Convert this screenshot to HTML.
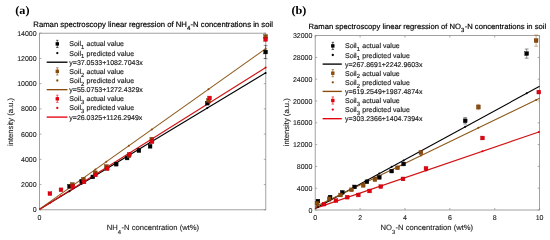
<!DOCTYPE html><html><head><meta charset="utf-8"><style>html,body{margin:0;padding:0;background:#fff;width:550px;height:240px;overflow:hidden}svg{display:block;filter:blur(0.3px)}text{text-rendering:geometricPrecision}</style></head><body>
<svg width="550" height="240" viewBox="0 0 550 240" font-family="Liberation Sans, Arial, sans-serif">
<rect width="550" height="240" fill="#fff"/>
<rect x="39.5" y="33.2" width="226.30" height="176.60" fill="none" stroke="#8a8a8a" stroke-width="0.8"/>
<line x1="39.5" y1="209.80" x2="41.50" y2="209.80" stroke="#8a8a8a" stroke-width="0.7"/>
<line x1="265.8" y1="209.80" x2="263.80" y2="209.80" stroke="#8a8a8a" stroke-width="0.7"/>
<text x="36.6" y="212.30" font-size="7.0" text-anchor="end" fill="#222" stroke="#222" stroke-width="0.12">0</text>
<line x1="39.5" y1="184.57" x2="41.50" y2="184.57" stroke="#8a8a8a" stroke-width="0.7"/>
<line x1="265.8" y1="184.57" x2="263.80" y2="184.57" stroke="#8a8a8a" stroke-width="0.7"/>
<text x="36.6" y="187.07" font-size="7.0" text-anchor="end" fill="#222" stroke="#222" stroke-width="0.12">2000</text>
<line x1="39.5" y1="159.34" x2="41.50" y2="159.34" stroke="#8a8a8a" stroke-width="0.7"/>
<line x1="265.8" y1="159.34" x2="263.80" y2="159.34" stroke="#8a8a8a" stroke-width="0.7"/>
<text x="36.6" y="161.84" font-size="7.0" text-anchor="end" fill="#222" stroke="#222" stroke-width="0.12">4000</text>
<line x1="39.5" y1="134.11" x2="41.50" y2="134.11" stroke="#8a8a8a" stroke-width="0.7"/>
<line x1="265.8" y1="134.11" x2="263.80" y2="134.11" stroke="#8a8a8a" stroke-width="0.7"/>
<text x="36.6" y="136.61" font-size="7.0" text-anchor="end" fill="#222" stroke="#222" stroke-width="0.12">6000</text>
<line x1="39.5" y1="108.89" x2="41.50" y2="108.89" stroke="#8a8a8a" stroke-width="0.7"/>
<line x1="265.8" y1="108.89" x2="263.80" y2="108.89" stroke="#8a8a8a" stroke-width="0.7"/>
<text x="36.6" y="111.39" font-size="7.0" text-anchor="end" fill="#222" stroke="#222" stroke-width="0.12">8000</text>
<line x1="39.5" y1="83.66" x2="41.50" y2="83.66" stroke="#8a8a8a" stroke-width="0.7"/>
<line x1="265.8" y1="83.66" x2="263.80" y2="83.66" stroke="#8a8a8a" stroke-width="0.7"/>
<text x="36.6" y="86.16" font-size="7.0" text-anchor="end" fill="#222" stroke="#222" stroke-width="0.12">10000</text>
<line x1="39.5" y1="58.43" x2="41.50" y2="58.43" stroke="#8a8a8a" stroke-width="0.7"/>
<line x1="265.8" y1="58.43" x2="263.80" y2="58.43" stroke="#8a8a8a" stroke-width="0.7"/>
<text x="36.6" y="60.93" font-size="7.0" text-anchor="end" fill="#222" stroke="#222" stroke-width="0.12">12000</text>
<line x1="39.5" y1="33.20" x2="41.50" y2="33.20" stroke="#8a8a8a" stroke-width="0.7"/>
<line x1="265.8" y1="33.20" x2="263.80" y2="33.20" stroke="#8a8a8a" stroke-width="0.7"/>
<text x="36.6" y="35.70" font-size="7.0" text-anchor="end" fill="#222" stroke="#222" stroke-width="0.12">14000</text>
<line x1="39.50" y1="209.8" x2="39.50" y2="207.8" stroke="#8a8a8a" stroke-width="0.7"/>
<line x1="39.50" y1="33.2" x2="39.50" y2="35.2" stroke="#8a8a8a" stroke-width="0.7"/>
<text x="39.50" y="220.10" font-size="7.0" text-anchor="middle" fill="#222" stroke="#222" stroke-width="0.12">0</text>
<line x1="39.50" y1="209.33" x2="265.80" y2="72.76" stroke="#000000" stroke-width="1.1"/>
<line x1="39.50" y1="209.11" x2="265.80" y2="48.60" stroke="#8d5a1c" stroke-width="1.1"/>
<line x1="39.50" y1="209.47" x2="265.80" y2="67.40" stroke="#d01414" stroke-width="1.2"/>
<circle cx="69.50" cy="191.23" r="1.0" fill="#000000"/>
<circle cx="81.70" cy="183.86" r="1.0" fill="#000000"/>
<circle cx="92.80" cy="177.17" r="1.0" fill="#000000"/>
<circle cx="116.20" cy="163.04" r="1.0" fill="#000000"/>
<circle cx="127.10" cy="156.46" r="1.0" fill="#000000"/>
<circle cx="138.90" cy="149.34" r="1.0" fill="#000000"/>
<circle cx="150.10" cy="142.58" r="1.0" fill="#000000"/>
<circle cx="207.30" cy="108.06" r="1.0" fill="#000000"/>
<circle cx="265.60" cy="72.88" r="1.0" fill="#000000"/>
<line x1="69.50" y1="184.80" x2="69.50" y2="187.80" stroke="#000000" stroke-width="0.6"/>
<rect x="67.60" y="184.40" width="3.8" height="3.8" fill="#000000" stroke="#000000" stroke-width="0.4"/>
<line x1="81.70" y1="179.80" x2="81.70" y2="182.80" stroke="#000000" stroke-width="0.6"/>
<rect x="79.80" y="179.40" width="3.8" height="3.8" fill="#000000" stroke="#000000" stroke-width="0.4"/>
<line x1="92.80" y1="175.40" x2="92.80" y2="178.40" stroke="#000000" stroke-width="0.6"/>
<rect x="90.90" y="175.00" width="3.8" height="3.8" fill="#000000" stroke="#000000" stroke-width="0.4"/>
<line x1="116.20" y1="162.70" x2="116.20" y2="165.70" stroke="#000000" stroke-width="0.6"/>
<rect x="114.30" y="162.30" width="3.8" height="3.8" fill="#000000" stroke="#000000" stroke-width="0.4"/>
<line x1="127.10" y1="156.50" x2="127.10" y2="159.50" stroke="#000000" stroke-width="0.6"/>
<rect x="125.20" y="156.10" width="3.8" height="3.8" fill="#000000" stroke="#000000" stroke-width="0.4"/>
<line x1="138.90" y1="149.10" x2="138.90" y2="152.10" stroke="#000000" stroke-width="0.6"/>
<rect x="137.00" y="148.70" width="3.8" height="3.8" fill="#000000" stroke="#000000" stroke-width="0.4"/>
<line x1="150.10" y1="144.80" x2="150.10" y2="147.80" stroke="#000000" stroke-width="0.6"/>
<rect x="148.20" y="144.40" width="3.8" height="3.8" fill="#000000" stroke="#000000" stroke-width="0.4"/>
<line x1="207.30" y1="101.70" x2="207.30" y2="104.70" stroke="#000000" stroke-width="0.6"/>
<rect x="205.40" y="101.30" width="3.8" height="3.8" fill="#000000" stroke="#000000" stroke-width="0.4"/>
<path d="M265.60 45.40V58.60M263.70 45.40H267.50M263.70 58.60H267.50" stroke="#000000" stroke-width="0.6" fill="none" opacity="0.7"/>
<rect x="263.70" y="50.10" width="3.8" height="3.8" fill="#000000" stroke="#000000" stroke-width="0.4"/>
<circle cx="72.30" cy="185.84" r="1.0" fill="#8a4a0a"/>
<circle cx="83.50" cy="177.90" r="1.0" fill="#8a4a0a"/>
<circle cx="95.30" cy="169.53" r="1.0" fill="#8a4a0a"/>
<circle cx="106.30" cy="161.73" r="1.0" fill="#8a4a0a"/>
<circle cx="128.90" cy="145.70" r="1.0" fill="#8a4a0a"/>
<circle cx="151.80" cy="129.45" r="1.0" fill="#8a4a0a"/>
<circle cx="208.50" cy="89.24" r="1.0" fill="#8a4a0a"/>
<circle cx="265.60" cy="48.74" r="1.0" fill="#8a4a0a"/>
<line x1="72.30" y1="183.00" x2="72.30" y2="186.00" stroke="#8a4a0a" stroke-width="0.6"/>
<rect x="70.40" y="182.60" width="3.8" height="3.8" fill="#8a4a0a" stroke="#6a3404" stroke-width="0.4"/>
<line x1="83.50" y1="178.00" x2="83.50" y2="181.00" stroke="#8a4a0a" stroke-width="0.6"/>
<rect x="81.60" y="177.60" width="3.8" height="3.8" fill="#8a4a0a" stroke="#6a3404" stroke-width="0.4"/>
<line x1="95.30" y1="171.30" x2="95.30" y2="174.30" stroke="#8a4a0a" stroke-width="0.6"/>
<rect x="93.40" y="170.90" width="3.8" height="3.8" fill="#8a4a0a" stroke="#6a3404" stroke-width="0.4"/>
<line x1="106.30" y1="165.00" x2="106.30" y2="168.00" stroke="#8a4a0a" stroke-width="0.6"/>
<rect x="104.40" y="164.60" width="3.8" height="3.8" fill="#8a4a0a" stroke="#6a3404" stroke-width="0.4"/>
<line x1="128.90" y1="154.30" x2="128.90" y2="157.30" stroke="#8a4a0a" stroke-width="0.6"/>
<rect x="127.00" y="153.90" width="3.8" height="3.8" fill="#8a4a0a" stroke="#6a3404" stroke-width="0.4"/>
<line x1="151.80" y1="137.70" x2="151.80" y2="140.70" stroke="#8a4a0a" stroke-width="0.6"/>
<rect x="149.90" y="137.30" width="3.8" height="3.8" fill="#8a4a0a" stroke="#6a3404" stroke-width="0.4"/>
<line x1="208.50" y1="99.10" x2="208.50" y2="102.10" stroke="#8a4a0a" stroke-width="0.6"/>
<rect x="206.60" y="98.70" width="3.8" height="3.8" fill="#8a4a0a" stroke="#6a3404" stroke-width="0.4"/>
<line x1="265.60" y1="34.60" x2="265.60" y2="38.60" stroke="#8a4a0a" stroke-width="0.6"/>
<rect x="263.70" y="34.70" width="3.8" height="3.8" fill="#8a4a0a" stroke="#6a3404" stroke-width="0.4"/>
<circle cx="49.90" cy="202.94" r="1.0" fill="#e3000f"/>
<circle cx="61.00" cy="195.97" r="1.0" fill="#e3000f"/>
<circle cx="72.70" cy="188.63" r="1.0" fill="#e3000f"/>
<circle cx="84.00" cy="181.53" r="1.0" fill="#e3000f"/>
<circle cx="95.40" cy="174.38" r="1.0" fill="#e3000f"/>
<circle cx="107.20" cy="166.97" r="1.0" fill="#e3000f"/>
<circle cx="129.40" cy="153.03" r="1.0" fill="#e3000f"/>
<circle cx="152.00" cy="138.84" r="1.0" fill="#e3000f"/>
<circle cx="209.60" cy="102.68" r="1.0" fill="#e3000f"/>
<circle cx="265.60" cy="67.52" r="1.0" fill="#e3000f"/>
<line x1="49.90" y1="192.10" x2="49.90" y2="195.10" stroke="#e3000f" stroke-width="0.6"/>
<rect x="48.00" y="191.70" width="3.8" height="3.8" fill="#e3000f" stroke="#b0000a" stroke-width="0.4"/>
<line x1="61.00" y1="188.30" x2="61.00" y2="191.30" stroke="#e3000f" stroke-width="0.6"/>
<rect x="59.10" y="187.90" width="3.8" height="3.8" fill="#e3000f" stroke="#b0000a" stroke-width="0.4"/>
<line x1="72.70" y1="184.90" x2="72.70" y2="187.90" stroke="#e3000f" stroke-width="0.6"/>
<rect x="70.80" y="184.50" width="3.8" height="3.8" fill="#e3000f" stroke="#b0000a" stroke-width="0.4"/>
<line x1="84.00" y1="180.40" x2="84.00" y2="183.40" stroke="#e3000f" stroke-width="0.6"/>
<rect x="82.10" y="180.00" width="3.8" height="3.8" fill="#e3000f" stroke="#b0000a" stroke-width="0.4"/>
<line x1="95.40" y1="173.40" x2="95.40" y2="176.40" stroke="#e3000f" stroke-width="0.6"/>
<rect x="93.50" y="173.00" width="3.8" height="3.8" fill="#e3000f" stroke="#b0000a" stroke-width="0.4"/>
<line x1="107.20" y1="167.20" x2="107.20" y2="170.20" stroke="#e3000f" stroke-width="0.6"/>
<rect x="105.30" y="166.80" width="3.8" height="3.8" fill="#e3000f" stroke="#b0000a" stroke-width="0.4"/>
<line x1="129.40" y1="153.10" x2="129.40" y2="156.10" stroke="#e3000f" stroke-width="0.6"/>
<rect x="127.50" y="152.70" width="3.8" height="3.8" fill="#e3000f" stroke="#b0000a" stroke-width="0.4"/>
<line x1="152.00" y1="140.20" x2="152.00" y2="143.20" stroke="#e3000f" stroke-width="0.6"/>
<rect x="150.10" y="139.80" width="3.8" height="3.8" fill="#e3000f" stroke="#b0000a" stroke-width="0.4"/>
<line x1="209.60" y1="96.50" x2="209.60" y2="99.50" stroke="#e3000f" stroke-width="0.6"/>
<rect x="207.70" y="96.10" width="3.8" height="3.8" fill="#e3000f" stroke="#b0000a" stroke-width="0.4"/>
<line x1="265.60" y1="37.40" x2="265.60" y2="41.40" stroke="#e3000f" stroke-width="0.6"/>
<rect x="263.70" y="37.50" width="3.8" height="3.8" fill="#e3000f" stroke="#b0000a" stroke-width="0.4"/>
<line x1="57.30" y1="40.30" x2="57.30" y2="47.50" stroke="#000000" stroke-width="0.6"/>
<line x1="56.10" y1="40.30" x2="58.50" y2="40.30" stroke="#000000" stroke-width="0.6"/>
<line x1="56.10" y1="47.50" x2="58.50" y2="47.50" stroke="#000000" stroke-width="0.6"/>
<rect x="55.60" y="42.20" width="3.4" height="3.4" fill="#000000"/>
<circle cx="57.30" cy="53.05" r="1.15" fill="#000000"/>
<line x1="46.70" y1="62.20" x2="67.50" y2="62.20" stroke="#000000" stroke-width="1.35"/>
<text x="69.30" y="46.40" font-size="7.0" fill="#1a1a1a" stroke="#1a1a1a" stroke-width="0.15">Soil<tspan font-size="5.88" dy="2.7">1</tspan><tspan dy="-2.7" dx="0.4"> actual value</tspan></text>
<text x="69.30" y="55.55" font-size="7.0" fill="#1a1a1a" stroke="#1a1a1a" stroke-width="0.15">Soil<tspan font-size="5.88" dy="2.7">1</tspan><tspan dy="-2.7" dx="0.4"> predicted value</tspan></text>
<text x="69.30" y="64.70" font-size="7.0" fill="#1a1a1a" stroke="#1a1a1a" stroke-width="0.15">y=37.0533+1082.7043x</text>
<line x1="57.30" y1="67.75" x2="57.30" y2="74.95" stroke="#8a4a0a" stroke-width="0.6"/>
<line x1="56.10" y1="67.75" x2="58.50" y2="67.75" stroke="#8a4a0a" stroke-width="0.6"/>
<line x1="56.10" y1="74.95" x2="58.50" y2="74.95" stroke="#8a4a0a" stroke-width="0.6"/>
<rect x="55.60" y="69.65" width="3.4" height="3.4" fill="#8a4a0a"/>
<circle cx="57.30" cy="80.50" r="1.15" fill="#8a4a0a"/>
<line x1="46.70" y1="89.65" x2="67.50" y2="89.65" stroke="#8a4a0a" stroke-width="1.35"/>
<text x="69.30" y="73.85" font-size="7.0" fill="#1a1a1a" stroke="#1a1a1a" stroke-width="0.15">Soil<tspan font-size="5.88" dy="2.7">2</tspan><tspan dy="-2.7" dx="0.4"> actual value</tspan></text>
<text x="69.30" y="83.00" font-size="7.0" fill="#1a1a1a" stroke="#1a1a1a" stroke-width="0.15">Soil<tspan font-size="5.88" dy="2.7">2</tspan><tspan dy="-2.7" dx="0.4"> predicted value</tspan></text>
<text x="69.30" y="92.15" font-size="7.0" fill="#1a1a1a" stroke="#1a1a1a" stroke-width="0.15">y=55.0753+1272.4329x</text>
<line x1="57.30" y1="95.20" x2="57.30" y2="102.40" stroke="#e3000f" stroke-width="0.6"/>
<line x1="56.10" y1="95.20" x2="58.50" y2="95.20" stroke="#e3000f" stroke-width="0.6"/>
<line x1="56.10" y1="102.40" x2="58.50" y2="102.40" stroke="#e3000f" stroke-width="0.6"/>
<rect x="55.60" y="97.10" width="3.4" height="3.4" fill="#e3000f"/>
<circle cx="57.30" cy="107.95" r="1.15" fill="#e3000f"/>
<line x1="46.70" y1="117.10" x2="67.50" y2="117.10" stroke="#e3000f" stroke-width="1.35"/>
<text x="69.30" y="101.30" font-size="7.0" fill="#1a1a1a" stroke="#1a1a1a" stroke-width="0.15">Soil<tspan font-size="5.88" dy="2.7">3</tspan><tspan dy="-2.7" dx="0.4"> actual value</tspan></text>
<text x="69.30" y="110.45" font-size="7.0" fill="#1a1a1a" stroke="#1a1a1a" stroke-width="0.15">Soil<tspan font-size="5.88" dy="2.7">3</tspan><tspan dy="-2.7" dx="0.4"> predicted value</tspan></text>
<text x="69.30" y="119.60" font-size="7.0" fill="#1a1a1a" stroke="#1a1a1a" stroke-width="0.15">y=26.0325+1126.2949x</text>
<text x="153.1" y="26.8" font-size="7.72" text-anchor="middle" fill="#000" stroke="#000" stroke-width="0.18">Raman spectroscopy linear regression of NH<tspan font-size="5.9" dy="3.4">4</tspan><tspan dy="-3.4" dx="0.3">-N concentrations in soil</tspan></text>
<text x="153" y="230.2" font-size="7.65" text-anchor="middle" fill="#222" stroke="#222" stroke-width="0.12">NH<tspan font-size="5.9" dy="3.6">4</tspan><tspan dy="-3.6" dx="0.3">-N concentration (wt%)</tspan></text>
<text transform="translate(13.3,122.0) rotate(-90)" font-size="7.65" text-anchor="middle" fill="#222" stroke="#222" stroke-width="0.12">intensity (a.u.)</text>
<text transform="translate(15.3,13.6) scale(1.07,1)" font-size="11.4" font-family="Liberation Serif, serif" font-weight="bold" fill="#000">(a)</text>
<rect x="315.2" y="35.6" width="224.40" height="174.40" fill="none" stroke="#8a8a8a" stroke-width="0.8"/>
<line x1="315.2" y1="210.00" x2="317.20" y2="210.00" stroke="#8a8a8a" stroke-width="0.7"/>
<line x1="539.6" y1="210.00" x2="537.60" y2="210.00" stroke="#8a8a8a" stroke-width="0.7"/>
<text x="312.4" y="212.50" font-size="7.0" text-anchor="end" fill="#222" stroke="#222" stroke-width="0.12">0</text>
<line x1="315.2" y1="188.20" x2="317.20" y2="188.20" stroke="#8a8a8a" stroke-width="0.7"/>
<line x1="539.6" y1="188.20" x2="537.60" y2="188.20" stroke="#8a8a8a" stroke-width="0.7"/>
<text x="312.4" y="190.70" font-size="7.0" text-anchor="end" fill="#222" stroke="#222" stroke-width="0.12">4000</text>
<line x1="315.2" y1="166.40" x2="317.20" y2="166.40" stroke="#8a8a8a" stroke-width="0.7"/>
<line x1="539.6" y1="166.40" x2="537.60" y2="166.40" stroke="#8a8a8a" stroke-width="0.7"/>
<text x="312.4" y="168.90" font-size="7.0" text-anchor="end" fill="#222" stroke="#222" stroke-width="0.12">8000</text>
<line x1="315.2" y1="144.60" x2="317.20" y2="144.60" stroke="#8a8a8a" stroke-width="0.7"/>
<line x1="539.6" y1="144.60" x2="537.60" y2="144.60" stroke="#8a8a8a" stroke-width="0.7"/>
<text x="312.4" y="147.10" font-size="7.0" text-anchor="end" fill="#222" stroke="#222" stroke-width="0.12">12000</text>
<line x1="315.2" y1="122.80" x2="317.20" y2="122.80" stroke="#8a8a8a" stroke-width="0.7"/>
<line x1="539.6" y1="122.80" x2="537.60" y2="122.80" stroke="#8a8a8a" stroke-width="0.7"/>
<text x="312.4" y="125.30" font-size="7.0" text-anchor="end" fill="#222" stroke="#222" stroke-width="0.12">16000</text>
<line x1="315.2" y1="101.00" x2="317.20" y2="101.00" stroke="#8a8a8a" stroke-width="0.7"/>
<line x1="539.6" y1="101.00" x2="537.60" y2="101.00" stroke="#8a8a8a" stroke-width="0.7"/>
<text x="312.4" y="103.50" font-size="7.0" text-anchor="end" fill="#222" stroke="#222" stroke-width="0.12">20000</text>
<line x1="315.2" y1="79.20" x2="317.20" y2="79.20" stroke="#8a8a8a" stroke-width="0.7"/>
<line x1="539.6" y1="79.20" x2="537.60" y2="79.20" stroke="#8a8a8a" stroke-width="0.7"/>
<text x="312.4" y="81.70" font-size="7.0" text-anchor="end" fill="#222" stroke="#222" stroke-width="0.12">24000</text>
<line x1="315.2" y1="57.40" x2="317.20" y2="57.40" stroke="#8a8a8a" stroke-width="0.7"/>
<line x1="539.6" y1="57.40" x2="537.60" y2="57.40" stroke="#8a8a8a" stroke-width="0.7"/>
<text x="312.4" y="59.90" font-size="7.0" text-anchor="end" fill="#222" stroke="#222" stroke-width="0.12">28000</text>
<line x1="315.2" y1="35.60" x2="317.20" y2="35.60" stroke="#8a8a8a" stroke-width="0.7"/>
<line x1="539.6" y1="35.60" x2="537.60" y2="35.60" stroke="#8a8a8a" stroke-width="0.7"/>
<text x="312.4" y="38.10" font-size="7.0" text-anchor="end" fill="#222" stroke="#222" stroke-width="0.12">32000</text>
<line x1="315.20" y1="210.0" x2="315.20" y2="208.0" stroke="#8a8a8a" stroke-width="0.7"/>
<line x1="315.20" y1="35.6" x2="315.20" y2="37.6" stroke="#8a8a8a" stroke-width="0.7"/>
<text x="315.20" y="220.30" font-size="7.0" text-anchor="middle" fill="#222" stroke="#222" stroke-width="0.12">0</text>
<line x1="360.08" y1="210.0" x2="360.08" y2="208.0" stroke="#8a8a8a" stroke-width="0.7"/>
<line x1="360.08" y1="35.6" x2="360.08" y2="37.6" stroke="#8a8a8a" stroke-width="0.7"/>
<text x="360.08" y="220.30" font-size="7.0" text-anchor="middle" fill="#222" stroke="#222" stroke-width="0.12">2</text>
<line x1="404.96" y1="210.0" x2="404.96" y2="208.0" stroke="#8a8a8a" stroke-width="0.7"/>
<line x1="404.96" y1="35.6" x2="404.96" y2="37.6" stroke="#8a8a8a" stroke-width="0.7"/>
<text x="404.96" y="220.30" font-size="7.0" text-anchor="middle" fill="#222" stroke="#222" stroke-width="0.12">4</text>
<line x1="449.84" y1="210.0" x2="449.84" y2="208.0" stroke="#8a8a8a" stroke-width="0.7"/>
<line x1="449.84" y1="35.6" x2="449.84" y2="37.6" stroke="#8a8a8a" stroke-width="0.7"/>
<text x="449.84" y="220.30" font-size="7.0" text-anchor="middle" fill="#222" stroke="#222" stroke-width="0.12">6</text>
<line x1="494.72" y1="210.0" x2="494.72" y2="208.0" stroke="#8a8a8a" stroke-width="0.7"/>
<line x1="494.72" y1="35.6" x2="494.72" y2="37.6" stroke="#8a8a8a" stroke-width="0.7"/>
<text x="494.72" y="220.30" font-size="7.0" text-anchor="middle" fill="#222" stroke="#222" stroke-width="0.12">8</text>
<line x1="539.60" y1="210.0" x2="539.60" y2="208.0" stroke="#8a8a8a" stroke-width="0.7"/>
<line x1="539.60" y1="35.6" x2="539.60" y2="37.6" stroke="#8a8a8a" stroke-width="0.7"/>
<text x="539.60" y="220.30" font-size="7.0" text-anchor="middle" fill="#222" stroke="#222" stroke-width="0.12">10</text>
<line x1="315.20" y1="208.54" x2="539.60" y2="86.30" stroke="#000000" stroke-width="1.1"/>
<line x1="315.20" y1="206.63" x2="539.60" y2="98.31" stroke="#8d5a1c" stroke-width="1.1"/>
<line x1="315.20" y1="208.35" x2="539.60" y2="131.79" stroke="#d01414" stroke-width="1.2"/>
<circle cx="317.90" cy="207.07" r="1.0" fill="#000000"/>
<circle cx="330.10" cy="200.42" r="1.0" fill="#000000"/>
<circle cx="342.30" cy="193.78" r="1.0" fill="#000000"/>
<circle cx="354.50" cy="187.13" r="1.0" fill="#000000"/>
<circle cx="366.90" cy="180.38" r="1.0" fill="#000000"/>
<circle cx="379.30" cy="173.62" r="1.0" fill="#000000"/>
<circle cx="391.70" cy="166.87" r="1.0" fill="#000000"/>
<circle cx="403.60" cy="160.38" r="1.0" fill="#000000"/>
<circle cx="465.20" cy="126.83" r="1.0" fill="#000000"/>
<circle cx="526.70" cy="93.33" r="1.0" fill="#000000"/>
<line x1="317.90" y1="199.60" x2="317.90" y2="202.60" stroke="#000000" stroke-width="0.6"/>
<rect x="316.00" y="199.20" width="3.8" height="3.8" fill="#000000" stroke="#000000" stroke-width="0.4"/>
<line x1="330.10" y1="195.60" x2="330.10" y2="198.60" stroke="#000000" stroke-width="0.6"/>
<rect x="328.20" y="195.20" width="3.8" height="3.8" fill="#000000" stroke="#000000" stroke-width="0.4"/>
<line x1="342.30" y1="190.90" x2="342.30" y2="193.90" stroke="#000000" stroke-width="0.6"/>
<rect x="340.40" y="190.50" width="3.8" height="3.8" fill="#000000" stroke="#000000" stroke-width="0.4"/>
<line x1="354.50" y1="185.40" x2="354.50" y2="188.40" stroke="#000000" stroke-width="0.6"/>
<rect x="352.60" y="185.00" width="3.8" height="3.8" fill="#000000" stroke="#000000" stroke-width="0.4"/>
<line x1="366.90" y1="180.30" x2="366.90" y2="183.30" stroke="#000000" stroke-width="0.6"/>
<rect x="365.00" y="179.90" width="3.8" height="3.8" fill="#000000" stroke="#000000" stroke-width="0.4"/>
<line x1="379.30" y1="175.90" x2="379.30" y2="178.90" stroke="#000000" stroke-width="0.6"/>
<rect x="377.40" y="175.50" width="3.8" height="3.8" fill="#000000" stroke="#000000" stroke-width="0.4"/>
<line x1="391.70" y1="169.60" x2="391.70" y2="172.60" stroke="#000000" stroke-width="0.6"/>
<rect x="389.80" y="169.20" width="3.8" height="3.8" fill="#000000" stroke="#000000" stroke-width="0.4"/>
<line x1="403.60" y1="162.50" x2="403.60" y2="165.50" stroke="#000000" stroke-width="0.6"/>
<rect x="401.70" y="162.10" width="3.8" height="3.8" fill="#000000" stroke="#000000" stroke-width="0.4"/>
<path d="M465.20 117.60V124.00M463.30 117.60H467.10M463.30 124.00H467.10" stroke="#000000" stroke-width="0.6" fill="none" opacity="0.7"/>
<rect x="463.30" y="118.90" width="3.8" height="3.8" fill="#000000" stroke="#000000" stroke-width="0.4"/>
<path d="M526.70 49.00V58.20M524.80 49.00H528.60M524.80 58.20H528.60" stroke="#000000" stroke-width="0.6" fill="none" opacity="0.7"/>
<rect x="524.80" y="51.70" width="3.8" height="3.8" fill="#000000" stroke="#000000" stroke-width="0.4"/>
<circle cx="317.00" cy="205.76" r="1.0" fill="#8a4a0a"/>
<circle cx="329.20" cy="199.87" r="1.0" fill="#8a4a0a"/>
<circle cx="340.60" cy="194.36" r="1.0" fill="#8a4a0a"/>
<circle cx="351.60" cy="189.05" r="1.0" fill="#8a4a0a"/>
<circle cx="363.20" cy="183.46" r="1.0" fill="#8a4a0a"/>
<circle cx="374.90" cy="177.81" r="1.0" fill="#8a4a0a"/>
<circle cx="397.60" cy="166.85" r="1.0" fill="#8a4a0a"/>
<circle cx="420.90" cy="155.60" r="1.0" fill="#8a4a0a"/>
<circle cx="478.40" cy="127.85" r="1.0" fill="#8a4a0a"/>
<circle cx="536.10" cy="100.00" r="1.0" fill="#8a4a0a"/>
<line x1="317.00" y1="201.70" x2="317.00" y2="204.70" stroke="#8a4a0a" stroke-width="0.6"/>
<rect x="315.10" y="201.30" width="3.8" height="3.8" fill="#8a4a0a" stroke="#6a3404" stroke-width="0.4"/>
<line x1="329.20" y1="197.30" x2="329.20" y2="200.30" stroke="#8a4a0a" stroke-width="0.6"/>
<rect x="327.30" y="196.90" width="3.8" height="3.8" fill="#8a4a0a" stroke="#6a3404" stroke-width="0.4"/>
<line x1="340.60" y1="193.50" x2="340.60" y2="196.50" stroke="#8a4a0a" stroke-width="0.6"/>
<rect x="338.70" y="193.10" width="3.8" height="3.8" fill="#8a4a0a" stroke="#6a3404" stroke-width="0.4"/>
<line x1="351.60" y1="188.30" x2="351.60" y2="191.30" stroke="#8a4a0a" stroke-width="0.6"/>
<rect x="349.70" y="187.90" width="3.8" height="3.8" fill="#8a4a0a" stroke="#6a3404" stroke-width="0.4"/>
<line x1="363.20" y1="183.90" x2="363.20" y2="186.90" stroke="#8a4a0a" stroke-width="0.6"/>
<rect x="361.30" y="183.50" width="3.8" height="3.8" fill="#8a4a0a" stroke="#6a3404" stroke-width="0.4"/>
<line x1="374.90" y1="178.10" x2="374.90" y2="181.10" stroke="#8a4a0a" stroke-width="0.6"/>
<rect x="373.00" y="177.70" width="3.8" height="3.8" fill="#8a4a0a" stroke="#6a3404" stroke-width="0.4"/>
<line x1="397.60" y1="166.30" x2="397.60" y2="169.30" stroke="#8a4a0a" stroke-width="0.6"/>
<rect x="395.70" y="165.90" width="3.8" height="3.8" fill="#8a4a0a" stroke="#6a3404" stroke-width="0.4"/>
<line x1="420.90" y1="151.00" x2="420.90" y2="154.00" stroke="#8a4a0a" stroke-width="0.6"/>
<rect x="419.00" y="150.60" width="3.8" height="3.8" fill="#8a4a0a" stroke="#6a3404" stroke-width="0.4"/>
<path d="M478.40 104.40V109.60M476.50 104.40H480.30M476.50 109.60H480.30" stroke="#8a4a0a" stroke-width="0.6" fill="none" opacity="0.7"/>
<rect x="476.50" y="105.10" width="3.8" height="3.8" fill="#8a4a0a" stroke="#6a3404" stroke-width="0.4"/>
<path d="M536.10 35.00V46.20M534.20 35.00H538.00M534.20 46.20H538.00" stroke="#8a4a0a" stroke-width="0.6" fill="none" opacity="0.7"/>
<rect x="534.20" y="38.70" width="3.8" height="3.8" fill="#8a4a0a" stroke="#6a3404" stroke-width="0.4"/>
<circle cx="324.00" cy="205.35" r="1.0" fill="#e3000f"/>
<circle cx="335.90" cy="201.29" r="1.0" fill="#e3000f"/>
<circle cx="347.20" cy="197.43" r="1.0" fill="#e3000f"/>
<circle cx="358.30" cy="193.64" r="1.0" fill="#e3000f"/>
<circle cx="369.60" cy="189.79" r="1.0" fill="#e3000f"/>
<circle cx="380.80" cy="185.97" r="1.0" fill="#e3000f"/>
<circle cx="403.00" cy="178.39" r="1.0" fill="#e3000f"/>
<circle cx="426.00" cy="170.55" r="1.0" fill="#e3000f"/>
<circle cx="482.50" cy="151.27" r="1.0" fill="#e3000f"/>
<circle cx="538.80" cy="132.06" r="1.0" fill="#e3000f"/>
<line x1="324.00" y1="202.60" x2="324.00" y2="205.60" stroke="#e3000f" stroke-width="0.6"/>
<rect x="322.10" y="202.20" width="3.8" height="3.8" fill="#e3000f" stroke="#b0000a" stroke-width="0.4"/>
<line x1="335.90" y1="199.10" x2="335.90" y2="202.10" stroke="#e3000f" stroke-width="0.6"/>
<rect x="334.00" y="198.70" width="3.8" height="3.8" fill="#e3000f" stroke="#b0000a" stroke-width="0.4"/>
<line x1="347.20" y1="195.70" x2="347.20" y2="198.70" stroke="#e3000f" stroke-width="0.6"/>
<rect x="345.30" y="195.30" width="3.8" height="3.8" fill="#e3000f" stroke="#b0000a" stroke-width="0.4"/>
<line x1="358.30" y1="193.50" x2="358.30" y2="196.50" stroke="#e3000f" stroke-width="0.6"/>
<rect x="356.40" y="193.10" width="3.8" height="3.8" fill="#e3000f" stroke="#b0000a" stroke-width="0.4"/>
<line x1="369.60" y1="189.50" x2="369.60" y2="192.50" stroke="#e3000f" stroke-width="0.6"/>
<rect x="367.70" y="189.10" width="3.8" height="3.8" fill="#e3000f" stroke="#b0000a" stroke-width="0.4"/>
<line x1="380.80" y1="185.10" x2="380.80" y2="188.10" stroke="#e3000f" stroke-width="0.6"/>
<rect x="378.90" y="184.70" width="3.8" height="3.8" fill="#e3000f" stroke="#b0000a" stroke-width="0.4"/>
<line x1="403.00" y1="177.40" x2="403.00" y2="180.40" stroke="#e3000f" stroke-width="0.6"/>
<rect x="401.10" y="177.00" width="3.8" height="3.8" fill="#e3000f" stroke="#b0000a" stroke-width="0.4"/>
<line x1="426.00" y1="166.90" x2="426.00" y2="169.90" stroke="#e3000f" stroke-width="0.6"/>
<rect x="424.10" y="166.50" width="3.8" height="3.8" fill="#e3000f" stroke="#b0000a" stroke-width="0.4"/>
<line x1="482.50" y1="136.50" x2="482.50" y2="139.50" stroke="#e3000f" stroke-width="0.6"/>
<rect x="480.60" y="136.10" width="3.8" height="3.8" fill="#e3000f" stroke="#b0000a" stroke-width="0.4"/>
<line x1="538.80" y1="90.60" x2="538.80" y2="93.60" stroke="#e3000f" stroke-width="0.6"/>
<rect x="536.90" y="90.20" width="3.8" height="3.8" fill="#e3000f" stroke="#b0000a" stroke-width="0.4"/>
<line x1="332.80" y1="42.30" x2="332.80" y2="49.50" stroke="#000000" stroke-width="0.6"/>
<line x1="331.60" y1="42.30" x2="334.00" y2="42.30" stroke="#000000" stroke-width="0.6"/>
<line x1="331.60" y1="49.50" x2="334.00" y2="49.50" stroke="#000000" stroke-width="0.6"/>
<rect x="331.10" y="44.20" width="3.4" height="3.4" fill="#000000"/>
<circle cx="332.80" cy="55.00" r="1.15" fill="#000000"/>
<line x1="322.60" y1="64.10" x2="341.80" y2="64.10" stroke="#000000" stroke-width="1.35"/>
<text x="345.00" y="48.40" font-size="7.0" fill="#1a1a1a" stroke="#1a1a1a" stroke-width="0.15">Soil<tspan font-size="5.88" dy="2.7">1</tspan><tspan dy="-2.7" dx="0.4"> actual value</tspan></text>
<text x="345.00" y="57.50" font-size="7.0" fill="#1a1a1a" stroke="#1a1a1a" stroke-width="0.15">Soil<tspan font-size="5.88" dy="2.7">1</tspan><tspan dy="-2.7" dx="0.4"> predicted value</tspan></text>
<text x="345.00" y="66.60" font-size="7.0" fill="#1a1a1a" stroke="#1a1a1a" stroke-width="0.15">y=267.8691+2242.9603x</text>
<line x1="332.80" y1="69.60" x2="332.80" y2="76.80" stroke="#8a4a0a" stroke-width="0.6"/>
<line x1="331.60" y1="69.60" x2="334.00" y2="69.60" stroke="#8a4a0a" stroke-width="0.6"/>
<line x1="331.60" y1="76.80" x2="334.00" y2="76.80" stroke="#8a4a0a" stroke-width="0.6"/>
<rect x="331.10" y="71.50" width="3.4" height="3.4" fill="#8a4a0a"/>
<circle cx="332.80" cy="82.30" r="1.15" fill="#8a4a0a"/>
<line x1="322.60" y1="91.40" x2="341.80" y2="91.40" stroke="#8a4a0a" stroke-width="1.35"/>
<text x="345.00" y="75.70" font-size="7.0" fill="#1a1a1a" stroke="#1a1a1a" stroke-width="0.15">Soil<tspan font-size="5.88" dy="2.7">2</tspan><tspan dy="-2.7" dx="0.4"> actual value</tspan></text>
<text x="345.00" y="84.80" font-size="7.0" fill="#1a1a1a" stroke="#1a1a1a" stroke-width="0.15">Soil<tspan font-size="5.88" dy="2.7">2</tspan><tspan dy="-2.7" dx="0.4"> predicted value</tspan></text>
<text x="345.00" y="93.90" font-size="7.0" fill="#1a1a1a" stroke="#1a1a1a" stroke-width="0.15">y=619.2549+1987.4874x</text>
<line x1="332.80" y1="96.90" x2="332.80" y2="104.10" stroke="#e3000f" stroke-width="0.6"/>
<line x1="331.60" y1="96.90" x2="334.00" y2="96.90" stroke="#e3000f" stroke-width="0.6"/>
<line x1="331.60" y1="104.10" x2="334.00" y2="104.10" stroke="#e3000f" stroke-width="0.6"/>
<rect x="331.10" y="98.80" width="3.4" height="3.4" fill="#e3000f"/>
<circle cx="332.80" cy="109.60" r="1.15" fill="#e3000f"/>
<line x1="322.60" y1="118.70" x2="341.80" y2="118.70" stroke="#e3000f" stroke-width="1.35"/>
<text x="345.00" y="103.00" font-size="7.0" fill="#1a1a1a" stroke="#1a1a1a" stroke-width="0.15">Soil<tspan font-size="5.88" dy="2.7">3</tspan><tspan dy="-2.7" dx="0.4"> actual value</tspan></text>
<text x="345.00" y="112.10" font-size="7.0" fill="#1a1a1a" stroke="#1a1a1a" stroke-width="0.15">Soil<tspan font-size="5.88" dy="2.7">3</tspan><tspan dy="-2.7" dx="0.4"> predicted value</tspan></text>
<text x="345.00" y="121.20" font-size="7.0" fill="#1a1a1a" stroke="#1a1a1a" stroke-width="0.15">y=303.2366+1404.7394x</text>
<text x="427.4" y="28.7" font-size="7.65" text-anchor="middle" fill="#000" stroke="#000" stroke-width="0.18">Raman spectroscopy linear regression of NO<tspan font-size="5.9" dy="3.4">3</tspan><tspan dy="-3.4" dx="0.3">-N concentrations in soil</tspan></text>
<text x="426.8" y="230.2" font-size="7.65" text-anchor="middle" fill="#222" stroke="#222" stroke-width="0.12">NO<tspan font-size="5.9" dy="3.6">3</tspan><tspan dy="-3.6" dx="0.3">-N concentration (wt%)</tspan></text>
<text transform="translate(288.6,122.3) rotate(-90)" font-size="7.65" text-anchor="middle" fill="#222" stroke="#222" stroke-width="0.12">intensity (a.u.)</text>
<text transform="translate(291.5,13.6) scale(1.07,1)" font-size="11.4" font-family="Liberation Serif, serif" font-weight="bold" fill="#000">(b)</text>
</svg></body></html>
